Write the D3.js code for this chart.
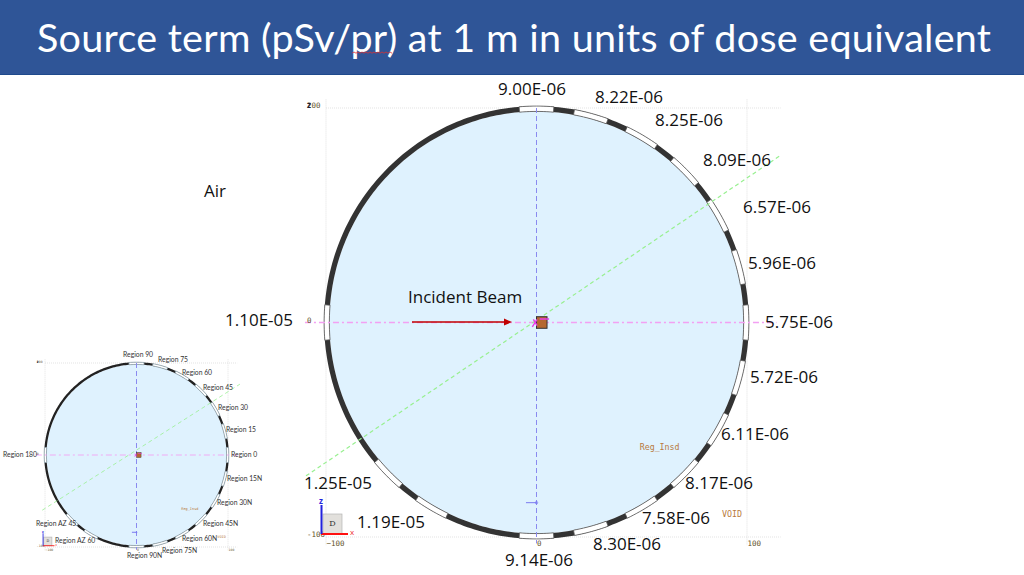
<!DOCTYPE html>
<html>
<head>
<meta charset="utf-8">
<script src="https://cdn.jsdelivr.net/npm/d3@7"></script>
<style>
  html, body { margin: 0; padding: 0; background: #fff; }
  svg { display: block; }
  text { font-family: "Open Sans", sans-serif; }
</style>
</head>
<body>
<svg id="chart" width="1024" height="575"></svg>
<script>
var titleText = "Source term (pSv/pr) at 1 m in units of dose equivalent";

// Azimuth of each open detector window, degrees, counter-clockwise from the +x axis
var windowAngles = [90, 75, 60, 45, 30, 15, 0, -15, -30, -45, -60, -75, -90, 240, 225, 180];
var doseLabels = ["9.00E-06", "8.22E-06", "8.25E-06", "8.09E-06", "6.57E-06", "5.96E-06", "5.75E-06",
  "5.72E-06", "6.11E-06", "8.17E-06", "7.58E-06", "8.30E-06", "9.14E-06", "1.19E-05", "1.25E-05", "1.10E-05"];
var regionLabels = ["Region 90", "Region 75", "Region 60", "Region 45", "Region 30", "Region 15", "Region 0",
  "Region 15N", "Region 30N", "Region 45N", "Region 60N", "Region 75N", "Region 90N", "Region AZ 60", "Region AZ 45", "Region 180"];
var tickValues = [-100, 0, 100];

// Where the hand-placed callouts sit on the slide, as left edge and baseline
var doseLabelAt = [[498, 95], [595, 103], [655, 126], [703, 166], [743, 213], [748, 269], [765, 328],
  [750, 383], [721, 440], [685, 489], [642, 524], [593, 550], [505, 566], [357, 528], [304, 489], [225, 326]];
var regionLabelAt = [[123, 357], [158, 362], [182, 375], [203, 390], [218, 410], [226, 432], [231, 457],
  [227, 481], [217, 505], [203, 526], [182, 541], [162, 553], [127, 558], [55, 543], [36, 526], [3, 457]];

var svg = d3.select("#chart");

svg.append("rect").attr("width", 1024).attr("height", 75).attr("fill", "#2f5597");
svg.append("rect").attr("y", 74).attr("width", 1024).attr("height", 1).attr("fill", "#1f4a8c");
svg.append("text").attr("x", 37).attr("y", 52).attr("fill", "#fff")
  .style("font-family", "Lato, sans-serif")
  .attr("font-size", 39.5).attr("textLength", 954).attr("lengthAdjust", "spacing").text(titleText);
// spell checker squiggle under "pr"
svg.append("path").attr("fill", "none").attr("stroke", "#e03030").attr("stroke-width", 0.8)
  .attr("d", d3.range(0, 21).map(function (i) {
    return (i ? "L" : "M") + (352 + i * 2) + "," + (i % 2 ? 52 : 53.2);
  }).join(""));

function drawPlot(opts) {
  var g = svg.append("g");
  var x = d3.scaleLinear().domain([-100, 100]).range(opts.xRange);
  var y = d3.scaleLinear().domain([-100, 100]).range(opts.yRange);
  var k = opts.scale;

  // frame lines of the geometry viewer
  var frame = g.append("g").attr("stroke", "#dcdcdc").attr("stroke-dasharray", "1,1").attr("stroke-width", 0.8);
  tickValues.filter(function (t) { return t !== 0; }).forEach(function (t) {
    frame.append("line").attr("x1", x(t)).attr("x2", x(t)).attr("y1", y(104)).attr("y2", y(-104));
    frame.append("line").attr("x1", x(-100)).attr("x2", x(opts.frameEnd)).attr("y1", y(t)).attr("y2", y(t));
  });

  // polar point in plot units, squashed through the two scales
  function polar(r, deg) {
    var a = deg * Math.PI / 180;
    return [x(r * Math.cos(a)), y(r * Math.sin(a))];
  }
  function arcPath(r0, r1, a0, a1) {
    var n = Math.ceil(Math.abs(a1 - a0)), pts = [];
    d3.range(n + 1).forEach(function (i) { pts.push(polar(r1, a0 + (a1 - a0) * i / n)); });
    d3.range(n + 1).forEach(function (i) { pts.push(polar(r0, a1 - (a1 - a0) * i / n)); });
    return d3.line()(pts) + "Z";
  }

  var ringIn = 98.4, ringOut = 100.9, half = 4.7;

  g.append("path").attr("fill", "#dff2fe").attr("d", arcPath(0, ringIn, 0, 360));
  g.append("path").attr("fill", opts.ringColor).attr("d", arcPath(ringIn, ringOut, 0, 360));

  g.selectAll(".win").data(windowAngles).enter().append("path")
    .attr("class", "win")
    .attr("fill", "#fff")
    .attr("stroke", opts.windowEdge)
    .attr("stroke-width", 0.8)
    .attr("d", function (d) { return arcPath(ringIn, ringOut, d - half, d + half); });

  // dashed axes through the target
  g.append("line").attr("x1", x(-110)).attr("x2", x(114)).attr("y1", y(0)).attr("y2", y(0))
    .attr("stroke", "#f3a0f3").attr("stroke-width", 1.3 * Math.sqrt(k)).attr("stroke-dasharray", "6,3,2,3");
  g.append("line").attr("x1", x(0)).attr("x2", x(0)).attr("y1", y(100)).attr("y2", y(-103))
    .attr("stroke", "#8a8af0").attr("stroke-width", 1).attr("stroke-dasharray", "5,3");
  g.append("line").attr("x1", x(opts.beamEnds[0][0])).attr("x2", x(opts.beamEnds[1][0]))
    .attr("y1", y(opts.beamEnds[0][1])).attr("y2", y(opts.beamEnds[1][1]))
    .attr("stroke", "#98f090").attr("stroke-width", 1.2 * Math.sqrt(k)).attr("stroke-dasharray", "4,3");

  // little blue cross low on the z axis
  g.append("line").attr("x1", x(-5)).attr("x2", x(0)).attr("y1", y(-84)).attr("y2", y(-84))
    .attr("stroke", "#7a7af0").attr("stroke-width", 1);
  g.append("circle").attr("cx", x(0)).attr("cy", y(-84)).attr("r", 1.2 * k)
    .attr("fill", "none").attr("stroke", "#7a7af0").attr("stroke-width", 0.8);

  // target block
  g.append("rect").attr("x", x(0)).attr("y", y(2.7)).attr("width", x(5) - x(0)).attr("height", y(-2.7) - y(2.7))
    .attr("fill", "#b5682f").attr("stroke", "#333").attr("stroke-width", 1 * k);
  g.append("path").attr("fill", "none").attr("stroke", "#e83ee8").attr("stroke-width", 1.4 * k)
    .attr("d", "M" + x(-2) + "," + y(-2) + "L" + x(0.3) + "," + y(1.5) + "M" + x(-1.5) + "," + y(1.5) + "L" + x(0.3) + "," + y(-1.5)
      + "M" + x(1.5) + "," + y(1.6) + "L" + x(6) + "," + y(1.6));

  // axis tick labels
  var ax = d3.axisBottom(x).tickValues(tickValues).tickSize(0).tickPadding(0);
  var axG = g.append("g").attr("transform", "translate(0," + (y(-100) + 4 * k) + ")").call(ax);
  axG.select(".domain").remove();
  axG.selectAll(".tick text").attr("text-anchor", "start");
  var ay = d3.axisLeft(y).tickValues(tickValues).tickSize(0).tickPadding(0)
    .tickFormat(function (d) { return d === 100 ? "200" : d; });
  var ayG = g.append("g").attr("transform", "translate(" + (x(-100) - 19 * k) + ",0)").call(ay);
  ayG.select(".domain").remove();
  ayG.selectAll(".tick text").attr("text-anchor", "start").attr("dy", "-0.05em");
  g.selectAll(".tick text").attr("fill", "#5f5028")
    .style("font-family", "'DejaVu Sans Mono', monospace").attr("font-size", 7.5 * k);
  g.append("text").attr("x", x(-100) - 19 * k).attr("y", y(100) - 0.5 * k).attr("font-size", 8 * k)
    .attr("fill", "#223").attr("font-weight", "bold").text("z");

  // region tags
  g.append("text").attr("x", x(49)).attr("y", y(-59.5)).attr("fill", "#b87a40")
    .style("font-family", "'DejaVu Sans Mono', monospace").attr("font-size", 8.3 * k).text("Reg_Insd");
  g.append("text").attr("x", x(97.6)).attr("y", y(-90.7)).attr("fill", "#b87a40")
    .style("font-family", "'DejaVu Sans Mono', monospace").attr("font-size", 8.3 * k).attr("text-anchor", "end").text("VOID");

  // axis triad with the orientation box
  var ox = x(-100), oy = y(-100) - 3 * k;
  g.append("rect").attr("x", ox - 3 * k).attr("y", oy - 20 * k).attr("width", 19 * k).attr("height", 20 * k)
    .attr("fill", "#e2e0dc").attr("stroke", "#b5b5b5").attr("stroke-width", 0.7);
  g.append("text").attr("x", ox + 6.5 * k).attr("y", oy - 8 * k).attr("text-anchor", "middle")
    .attr("font-size", 8 * k).attr("fill", "#333").style("font-family", "'DejaVu Serif', serif").text("D");
  g.append("line").attr("x1", ox - 5 * k).attr("x2", ox + 22 * k).attr("y1", oy).attr("y2", oy)
    .attr("stroke", "#f11").attr("stroke-width", 2 * k);
  g.append("line").attr("x1", ox - 4.5 * k).attr("x2", ox - 4.5 * k).attr("y1", oy).attr("y2", oy - 29 * k)
    .attr("stroke", "#22d").attr("stroke-width", 2 * k);
  g.append("text").attr("x", ox + 24 * k).attr("y", oy + 1 * k).attr("font-size", 8 * k).attr("fill", "#e33").text("x");
  g.append("text").attr("x", ox - 7 * k).attr("y", oy - 30 * k).attr("font-size", 8 * k).attr("font-weight", "bold").attr("fill", "#22d").text("z");

  // callouts
  g.selectAll(".callout").data(opts.labels).enter().append("text")
    .attr("class", "callout")
    .attr("x", function (d, i) { return opts.at[i][0]; })
    .attr("y", function (d, i) { return opts.at[i][1]; })
    .style("font-family", opts.labelFont)
    .attr("font-size", opts.labelSize)
    .attr("fill", opts.labelColor)
    .text(function (d) { return d; });
}

drawPlot({
  xRange: [326, 747], yRange: [537, 108], scale: 1, frameEnd: 116,
  beamEnds: [[-109.5, -71.5], [116, 78]],
  ringColor: "#333", windowEdge: "#555",
  labels: doseLabels, at: doseLabelAt,
  labelFont: "'Open Sans', sans-serif", labelSize: 17, labelColor: "#111"
});
drawPlot({
  xRange: [45, 228], yRange: [547, 363], scale: 0.43, frameEnd: 110,
  beamEnds: [[-103, -60], [113, 77]],
  ringColor: "#222", windowEdge: "#8fa3ad",
  labels: regionLabels, at: regionLabelAt,
  labelFont: "Lato, sans-serif", labelSize: 6.8, labelColor: "#333"
});

svg.append("text").attr("x", 204).attr("y", 197).attr("font-size", 17).attr("fill", "#111").text("Air");
svg.append("text").attr("x", 408).attr("y", 303).attr("font-size", 17).attr("fill", "#111").text("Incident Beam");

// beam arrow
svg.append("line").attr("x1", 412).attr("x2", 506).attr("y1", 322).attr("y2", 322)
  .attr("stroke", "#c00000").attr("stroke-width", 1.6);
svg.append("path").attr("fill", "#c00000").attr("d", d3.line()([[504, 318.5], [512, 322], [504, 325.5]]) + "Z");
</script>
</body>
</html>
